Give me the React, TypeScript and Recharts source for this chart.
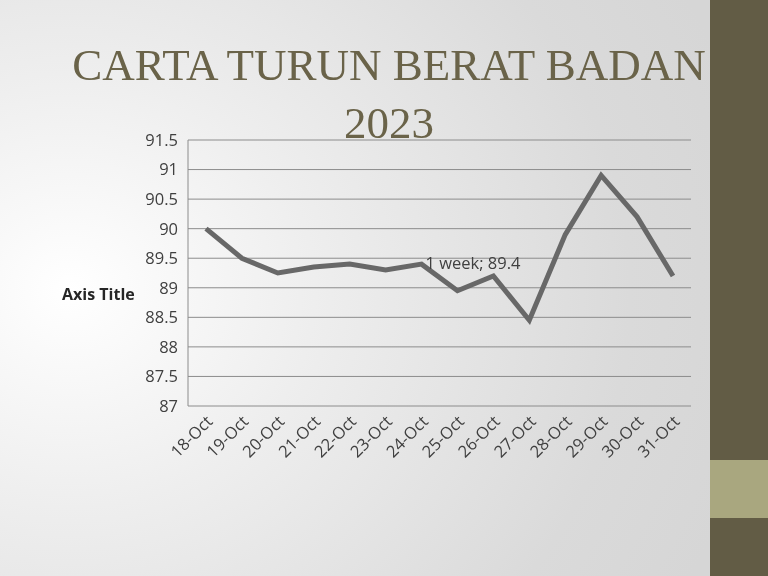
import { LineChart, Line, XAxis, YAxis, CartesianGrid, LabelList } from 'recharts';

const dates = [
  '18-Oct', '19-Oct', '20-Oct', '21-Oct', '22-Oct', '23-Oct', '24-Oct',
  '25-Oct', '26-Oct', '27-Oct', '28-Oct', '29-Oct', '30-Oct', '31-Oct',
];
const weights = [90.0, 89.5, 89.25, 89.35, 89.4, 89.3, 89.4, 88.95, 89.2, 88.45, 89.9, 90.9, 90.2, 89.2];
const yTicks = [87, 87.5, 88, 88.5, 89, 89.5, 90, 90.5, 91, 91.5];
const seriesName = '1 week';
const labelledIndex = 6;

const data = dates.map((d, i) => ({ date: d, weight: weights[i] }));

const font = '"Open Sans", "Liberation Sans", sans-serif';

function DateTick({ x, y, payload }: any) {
  const ax = x + 3;
  const ay = y + 4;
  return (
    <text
      x={ax}
      y={ay}
      transform={`rotate(-45 ${ax} ${ay})`}
      textAnchor="end"
      dominantBaseline="central"
      fill="#404040"
      fontSize={16.5}
      fontFamily={font}
    >
      {payload.value}
    </text>
  );
}

function PointLabel({ x, y, value, index }: any) {
  if (index !== labelledIndex) return null;
  return (
    <text x={x + 4} y={y - 2} dominantBaseline="central" fill="#404040" fontSize={16.5} fontFamily={font}>
      {`${seriesName}; ${value}`}
    </text>
  );
}

export default function App() {
  return (
    <div
      style={{
        position: 'fixed',
        left: 0,
        top: 0,
        width: 768,
        height: 576,
        overflow: 'hidden',
        background: 'radial-gradient(ellipse 700px 620px at 70px 290px, #ffffff 0%, #eeeeee 35%, #dadada 80%, #d6d6d6 100%)',
      }}
    >
      <style>{'body{margin:0}'}</style>
      <div
        style={{
          position: 'absolute',
          left: -11,
          width: 800,
          top: 36,
          textAlign: 'center',
          fontFamily: '"Liberation Serif", "DejaVu Serif", serif',
          fontSize: 45,
          lineHeight: '58px',
          color: '#6a6349',
          whiteSpace: 'nowrap',
        }}
      >
        CARTA TURUN BERAT BADAN
        <br />
        2023
      </div>
      <div
        style={{
          position: 'absolute',
          left: 62,
          top: 283,
          fontFamily: font,
          fontWeight: 700,
          fontSize: 16,
          color: '#262626',
          whiteSpace: 'nowrap',
        }}
      >
        Axis Title
      </div>
      <div style={{ position: 'absolute', left: 0, top: 0 }}>
        <LineChart width={768} height={576} data={data} margin={{ top: 140, right: 77, bottom: 110, left: 128 }}>
          <CartesianGrid vertical={false} stroke="#8c8c8c" strokeWidth={1} />
          <XAxis
            dataKey="date"
            interval={0}
            axisLine={false}
            tickLine={false}
            height={60}
            padding={{ left: 18, right: 18 }}
            tick={<DateTick />}
          />
          <YAxis
            domain={[87, 91.5]}
            ticks={yTicks}
            width={60}
            axisLine={{ stroke: '#8c8c8c' }}
            tickLine={false}
            tickMargin={4}
            tick={{ fill: '#404040', fontSize: 16.5, fontFamily: font }}
          />
          <Line
            type="linear"
            dataKey="weight"
            name={seriesName}
            stroke="#686868"
            strokeWidth={5}
            dot={false}
            isAnimationActive={false}
          >
            <LabelList dataKey="weight" content={<PointLabel />} />
          </Line>
        </LineChart>
      </div>
      <div style={{ position: 'absolute', left: 710, top: 0, width: 58, height: 576, background: '#625c45' }}>
        <div style={{ position: 'absolute', left: 0, top: 460, width: 58, height: 58, background: '#a9a77f' }} />
      </div>
    </div>
  );
}
